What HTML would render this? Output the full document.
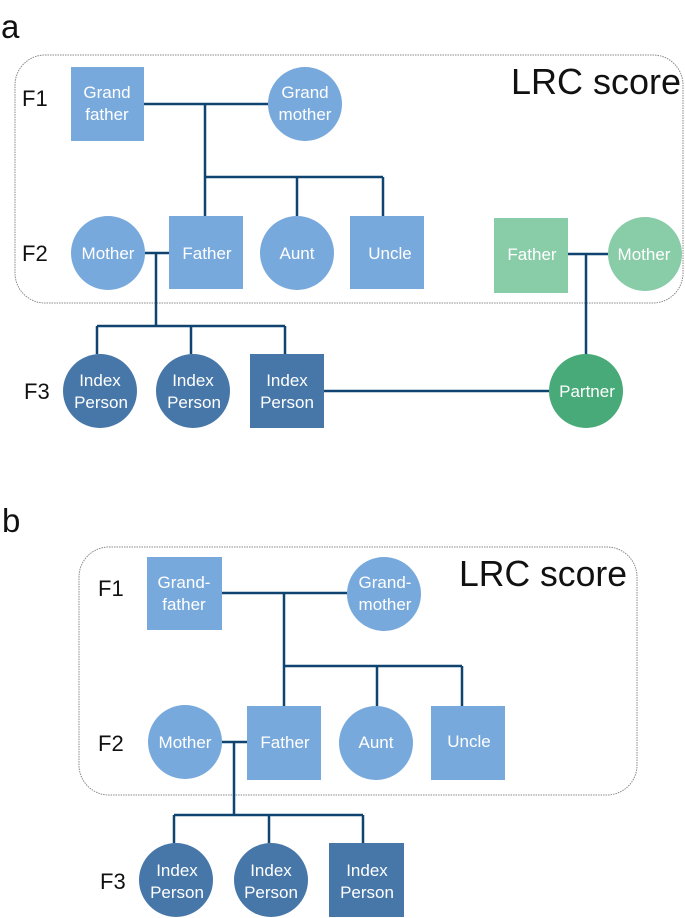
<!DOCTYPE html>
<html><head><meta charset="utf-8"><style>
html,body{margin:0;padding:0;background:#fff;}
svg{display:block;font-family:"Liberation Sans",Arial,sans-serif;}
.n{fill:#fff;font-size:17px;text-anchor:middle;}
.l{fill:#111;font-size:22px;}
.ln{stroke:#0f4470;stroke-width:2.5;fill:none;}
.box{fill:none;stroke:#888;stroke-width:1;stroke-dasharray:1.5 1;}
</style></head><body>
<svg width="685" height="918" viewBox="0 0 685 918">
<!-- panel a -->
<text x="1" y="38" style="font-size:33px" fill="#111">a</text>
<rect class="box" x="15" y="55" width="668" height="248" rx="30"/>
<text x="511" y="94" style="font-size:36px" fill="#111" textLength="170" lengthAdjust="spacingAndGlyphs">LRC score</text>
<text class="l" x="22" y="106">F1</text>
<text class="l" x="22" y="261">F2</text>
<text class="l" x="24" y="399">F3</text>
<g class="ln">
<path d="M144 104H268M205 104V216M205 177H383M297 177V216M383 177V216"/>
<path d="M145 253H169M156 253V326M97 326H285M97 326V354M191 326V354M285 326V354"/>
<path d="M324 391H549M568 254H608M586 254V354"/>
</g>
<rect x="71" y="67" width="73" height="74" fill="#78a9dc"/>
<ellipse cx="305" cy="104" rx="37" ry="37" fill="#78a9dc"/>
<ellipse cx="108" cy="253" rx="37" ry="37" fill="#78a9dc"/>
<rect x="169" y="216" width="74" height="73" fill="#78a9dc"/>
<ellipse cx="297" cy="253" rx="37" ry="37" fill="#78a9dc"/>
<rect x="350" y="216" width="74" height="73" fill="#78a9dc"/>
<rect x="494" y="218" width="74" height="75" fill="#88cca8"/>
<ellipse cx="645" cy="254" rx="37" ry="37" fill="#88cca8"/>
<ellipse cx="100" cy="391" rx="37" ry="37" fill="#4677a8"/>
<ellipse cx="193" cy="391" rx="37" ry="37" fill="#4677a8"/>
<rect x="250" y="354" width="74" height="74" fill="#4677a8"/>
<ellipse cx="586" cy="391" rx="37" ry="37" fill="#48aa78"/>
<text class="n" x="107" y="98">Grand</text><text class="n" x="107" y="120">father</text>
<text class="n" x="305" y="98">Grand</text><text class="n" x="305" y="120">mother</text>
<text class="n" x="108" y="259">Mother</text>
<text class="n" x="207" y="259">Father</text>
<text class="n" x="297" y="259">Aunt</text>
<text class="n" x="390" y="259">Uncle</text>
<text class="n" x="532" y="260">Father</text>
<text class="n" x="644" y="260">Mother</text>
<text class="n" x="100" y="386">Index</text><text class="n" x="101" y="408">Person</text>
<text class="n" x="193" y="386">Index</text><text class="n" x="194" y="408">Person</text>
<text class="n" x="287" y="386">Index</text><text class="n" x="287" y="408">Person</text>
<text class="n" x="587" y="397">Partner</text>

<!-- panel b -->
<text x="2" y="532" style="font-size:33px" fill="#111">b</text>
<rect class="box" x="79" y="547" width="558" height="248" rx="30"/>
<text x="459" y="586" style="font-size:36px" fill="#111" textLength="168" lengthAdjust="spacingAndGlyphs">LRC score</text>
<text class="l" x="98" y="596">F1</text>
<text class="l" x="98" y="751">F2</text>
<text class="l" x="100" y="889">F3</text>
<g class="ln">
<path d="M222 593H347M284 593V706M284 666H462M377 666V706M462 666V706"/>
<path d="M222 742H247M234 742V815M174 815H363M174 815V843M269 815V843M363 815V843"/>
</g>
<rect x="147" y="557" width="75" height="73" fill="#78a9dc"/>
<ellipse cx="384" cy="594" rx="37" ry="37" fill="#78a9dc"/>
<ellipse cx="185" cy="742" rx="37" ry="37" fill="#78a9dc"/>
<rect x="247" y="706" width="74" height="74" fill="#78a9dc"/>
<ellipse cx="376" cy="743" rx="37" ry="37" fill="#78a9dc"/>
<rect x="431" y="706" width="74" height="74" fill="#78a9dc"/>
<ellipse cx="176" cy="880" rx="37" ry="37" fill="#4677a8"/>
<ellipse cx="271" cy="880" rx="37" ry="37" fill="#4677a8"/>
<rect x="329" y="843" width="75" height="74" fill="#4677a8"/>
<text class="n" x="184" y="588">Grand-</text><text class="n" x="184" y="610">father</text>
<text class="n" x="385" y="588">Grand-</text><text class="n" x="385" y="610">mother</text>
<text class="n" x="185" y="748">Mother</text>
<text class="n" x="285" y="748">Father</text>
<text class="n" x="376" y="748">Aunt</text>
<text class="n" x="469" y="747">Uncle</text>
<text class="n" x="177" y="876">Index</text><text class="n" x="177" y="898">Person</text>
<text class="n" x="271" y="876">Index</text><text class="n" x="271" y="898">Person</text>
<text class="n" x="367" y="876">Index</text><text class="n" x="367" y="898">Person</text>
</svg>
</body></html>
